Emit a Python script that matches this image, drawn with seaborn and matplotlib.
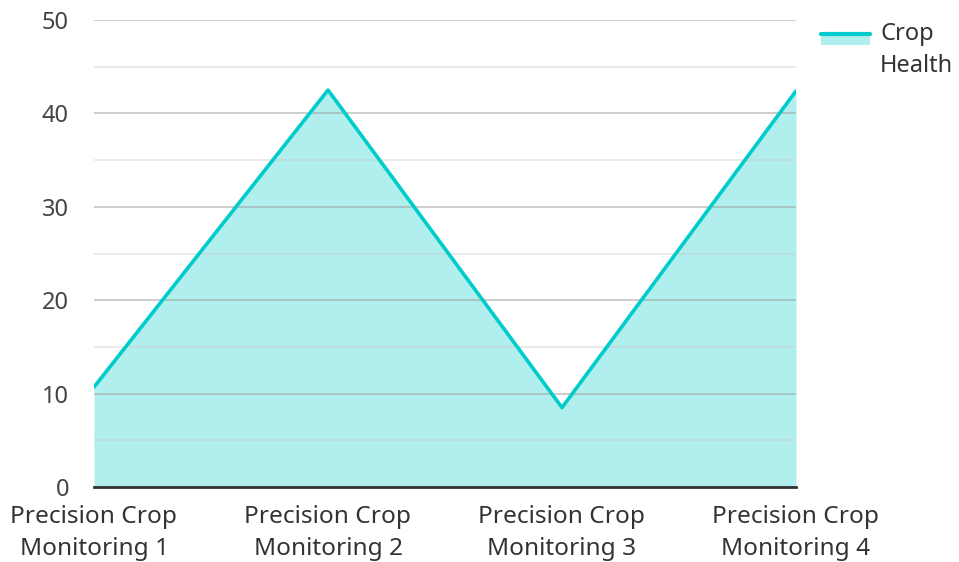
import matplotlib
matplotlib.use("Agg")
import matplotlib.pyplot as plt
from matplotlib.patches import Rectangle
from matplotlib.lines import Line2D
from matplotlib.ticker import MultipleLocator
import seaborn as sns
import pandas as pd

categories = ["Precision Crop\nMonitoring 1", "Precision Crop\nMonitoring 2",
              "Precision Crop\nMonitoring 3", "Precision Crop\nMonitoring 4"]
crop_health = [10.7, 42.5, 8.5, 42.4]
series_label = "Crop\nHealth"

line_color = "#00cccc"
fill_color = "#b0efee"
FS = 17
XFS = 17.6


class AreaHandler:
    """Legend key: filled swatch with the series line along its top edge."""

    def legend_artist(self, legend, orig_handle, fontsize, handlebox):
        x0, y0 = handlebox.xdescent, handlebox.ydescent
        w, h = handlebox.width, handlebox.height
        top = y0 + h - 1.12 * fontsize
        sw_h = 0.55 * fontsize
        tr = handlebox.get_transform()
        rect = Rectangle((x0, top - sw_h), w, sw_h, facecolor=fill_color,
                         edgecolor="none", transform=tr)
        line = Line2D([x0, x0 + w], [top - 0.1 * fontsize] * 2,
                      color=line_color, lw=3, transform=tr)
        handlebox.add_artist(rect)
        handlebox.add_artist(line)
        return rect


sns.set_theme(style="white")
plt.rcParams["font.family"] = ["Noto Sans", "DejaVu Sans"]

df = pd.DataFrame({"x": range(len(categories)), "value": crop_health})

fig = plt.figure(figsize=(9.59, 5.62), dpi=100)
ax = fig.add_axes([94 / 959, 1 - 487 / 562, (796 - 94) / 959, (487 - 20) / 562])

ax.fill_between(df["x"], df["value"], 0, color=fill_color, lw=0, zorder=1)
sns.lineplot(data=df, x="x", y="value", ax=ax, color=line_color, lw=2.6, zorder=3)

ax.set_xlim(0, len(categories) - 1)
ax.set_ylim(0, 50)
ax.yaxis.set_major_locator(MultipleLocator(10))
ax.yaxis.set_minor_locator(MultipleLocator(5))
ax.grid(which="major", axis="y", color="#9e9e9e", lw=1.2, alpha=0.6, zorder=2)
ax.grid(which="minor", axis="y", color="#c8c8c8", lw=1.2, alpha=0.45, zorder=2)
ax.set_axisbelow(False)
for sp in ["top", "right", "left"]:
    ax.spines[sp].set_visible(False)
ax.spines["bottom"].set_color("#333333")
ax.spines["bottom"].set_linewidth(2)
ax.spines["bottom"].set_zorder(4)

ax.set_xticks(df["x"])
ax.set_xticklabels(categories, fontsize=XFS, color="#333333", linespacing=1.45)
ax.tick_params(axis="y", labelsize=FS, labelcolor="#444444", length=0, pad=18)
ax.tick_params(axis="x", length=0, pad=13)
ax.tick_params(which="minor", length=0)
for lbl in ax.get_xticklabels():
    lbl.set_clip_on(False)
ax.set_xlabel("")
ax.set_ylabel("")

leg = ax.legend([object()], [series_label], handler_map={object: AreaHandler()},
                loc="upper left", bbox_to_anchor=(1.035, 0.995), frameon=False,
                fontsize=FS, handlelength=2.1, handleheight=2.3,
                handletextpad=0.42, borderaxespad=0, borderpad=0)
for t in leg.get_texts():
    t.set_color("#333333")
    t.set_linespacing(1.45)

fig.savefig("out.png", dpi=100)
